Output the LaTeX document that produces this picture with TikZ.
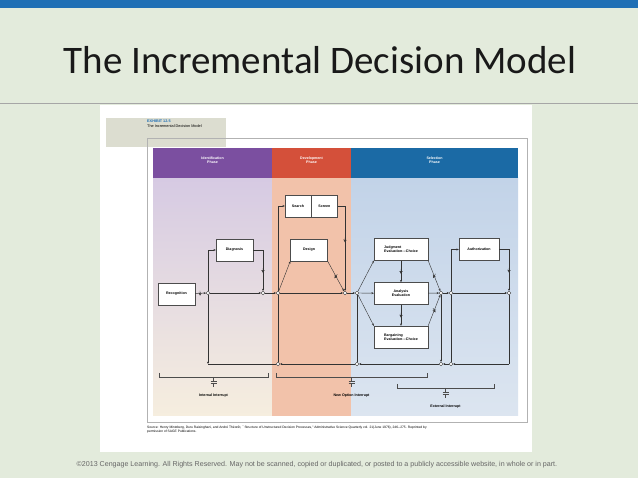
\documentclass[tikz,border=0pt]{standalone}
\usepackage{fontspec}
\setmainfont{Carlito}
\newfontfamily\arialf{Liberation Sans}
\usetikzlibrary{arrows.meta,positioning}
\definecolor{slidebg}{HTML}{E3EBDC}
\definecolor{topbar}{HTML}{1F6FB5}
\definecolor{idhead}{HTML}{7B4FA0}
\definecolor{devhead}{HTML}{D4503A}
\definecolor{selhead}{HTML}{1B6AA5}
\definecolor{idtop}{HTML}{D6CAE3}
\definecolor{idbot}{HTML}{F6EEDF}
\definecolor{devbody}{HTML}{F2C2AA}
\definecolor{seltop}{HTML}{C2D3E8}
\definecolor{selbot}{HTML}{DCE5F0}
\definecolor{exhbg}{HTML}{DCDDD0}
\tikzset{
  box/.style={draw=black!70,fill=white,line width=0.4pt,minimum width=37pt,minimum height=22pt,inner sep=1pt,font=\arialf\bfseries\fontsize{3.6}{4.2}\selectfont,align=center},
  knot/.style={circle,draw=black!80,fill=white,inner sep=0pt,minimum size=3.6pt,line width=0.35pt},
  flow/.style={line width=0.4pt,black!80},
  arr/.style={flow,-{Stealth[length=2.4pt,width=2pt]}},
  brk/.style={line width=0.35pt,black!70},
  lbl/.style={font=\arialf\bfseries\fontsize{3.6}{4.2}\selectfont},
  zz/.pic={\draw[line width=0.35pt] (0,-2.5) -- (0,-0.8) -- (1.3,0.2) -- (-1.3,-0.2) -- (0,0.8) -- (0,2.5);}
}
\begin{document}
\begin{tikzpicture}[x=1pt,y=-1pt]
\useasboundingbox (0,0) rectangle (638,478);
% slide
\fill[slidebg] (0,0) rectangle (638,478);
\fill[topbar] (0,0) rectangle (638,8);
\draw[black!35,line width=0.5pt] (0,103) -- (638,103);
\node[text=black!90] (title) at (320,60) {\fontsize{39}{42}\selectfont The Incremental Decision Model};
\node[text=black!60,font=\arialf\fontsize{7.1}{8}\selectfont] (foot) at (317,465) {\textcopyright2013 Cengage Learning. All Rights Reserved. May not be scanned, copied or duplicated, or posted to a publicly accessible website, in whole or in part.};
% exhibit
\fill[white] (100,105) rectangle (532,452);
\fill[exhbg] (106,118) rectangle (226,147);
\node[anchor=north west,align=left,inner sep=0pt,font=\arialf\fontsize{3.8}{4.6}\selectfont] (exh) at (147,120) {\textcolor{topbar}{\bfseries EXHIBIT 12.5}\\The Incremental Decision Model};
\draw[black!30,line width=0.5pt] (147,138) rectangle (527,422);
% phases
\shade[top color=idtop,bottom color=idbot] (153,178) rectangle (272,416);
\fill[devbody] (272,178) rectangle (351,416);
\shade[top color=seltop,bottom color=selbot] (351,178) rectangle (518,416);
\fill[idhead] (153,148) rectangle (272,178);
\fill[devhead] (272,148) rectangle (351,178);
\fill[selhead] (351,148) rectangle (518,178);
\node[lbl,white,align=center] (ph1) at (212.5,160) {Identification\\Phase};
\node[lbl,white,align=center] (ph2) at (311.5,160) {Development\\Phase};
\node[lbl,white,align=center] (ph3) at (434.5,160) {Selection\\Phase};
% boxes
\node[box] (rec) at (176.5,294) {Recognition};
\node[box] (diag) at (234.5,250) {Diagnosis};
\node[box,minimum width=26pt] (search) at (298,206) {Search};
\node[box,minimum width=26pt,right=0pt of search] (screen) {Screen};
\node[box] (design) at (309,250) {Design};
\node[box,minimum width=54pt,align=left] (judg) at (401,249.5) {Judgment\\Evaluation---Choice};
\node[box,minimum width=40pt] (auth) at (479,249.5) {Authorization};
\node[box,minimum width=54pt] (anal) at (401,293.5) {Analysis\\Evaluation};
\node[box,minimum width=54pt,align=left] (barg) at (401,337) {Bargaining\\Evaluation---Choice};
% knots
\foreach \n/\x/\y in {k1/208/293,k2/263/293,k3/278/293,k4/345/293,k5/357/293,k6/441/293,k7/451/293,k8/509/293,b3/278/364,b5/357/364,b6/441/364,b7/451/364}
  \node[knot] (\n) at (\x,\y) {};
\coordinate (b1) at (208,364);
\coordinate (b8) at (509,364);
% main line
\draw[arr] (rec) -- pic[pos=0.45]{zz} (k1);
\draw[arr] (k1) -- (k2);
\draw[arr] (k2) -- (k3);
\draw[arr] (k3) -- (k4);
\draw[arr] (k4) -- (k5);
\draw[arr] (k5) -- (anal);
\draw[arr] (anal) -- (k6);
\draw[arr] (k6) -- (k7);
\draw[arr] (k7) -- (k8);
% identification loop
\draw[arr] (k1) |- (diag);
\draw[arr] (diag.east) -| pic[pos=0.75]{zz} (k2);
\draw[arr] (k1) -- (b1);
% development
\draw[arr] (k3) |- (search);
\draw[arr] (k3) -- (design.south west);
\draw[arr] (design.south east) -- pic[pos=0.5,rotate=-35]{zz} (k4);
\draw[arr] (screen.east) -| pic[pos=0.7]{zz} (k4);
\draw[flow] (k3) -- (b3);
% selection
\draw[arr] (k5) -- (judg.south west);
\draw[arr] (k5) -- (barg.north west);
\draw[arr] (judg) -- pic[pos=0.5]{zz} (anal);
\draw[arr] (anal) -- pic[pos=0.5]{zz} (barg);
\draw[arr] (judg.south east) -- pic[pos=0.5,rotate=-30]{zz} (k6);
\draw[arr] (barg.north east) -- pic[pos=0.5,rotate=30]{zz} (k6);
\draw[arr] (k7) |- (auth);
\draw[arr] (auth.east) -| pic[pos=0.75]{zz} (k8);
\draw[arr] (k6) -- (b6);
\draw[flow] (k5) -- (b5);
\draw[flow] (k7) -- (b7);
% feedback
\draw[flow] (k8) -- (b8);
\draw[arr] (b8) -- (b7);
\draw[arr] (b7) -- (b6);
\draw[arr] (b6) -- (b5);
\draw[arr] (b5) -- (b3);
\draw[flow] (b3) -- (b1);
% interrupts
\foreach \l/\r/\y/\t/\n in {159/268/377/Internal Interrupt/ii,276/427/377/New Option Interrupt/noi,397/494/388/External Interrupt/ei}{
  \draw[brk] (\l,\y-4) -- (\l,\y) -- (\r,\y) -- (\r,\y-4);
  \draw[brk] ({(\l+\r)/2},\y) -- ({(\l+\r)/2},\y+4) ({(\l+\r)/2-3},\y+4) -- ({(\l+\r)/2+3},\y+4)
    ({(\l+\r)/2-3},\y+6.5) -- ({(\l+\r)/2+3},\y+6.5) ({(\l+\r)/2},\y+6.5) -- ({(\l+\r)/2},\y+10);
  \node[lbl] (\n) at ({(\l+\r)/2},\y+19) {\t};
}
\node[anchor=north west,align=left,inner sep=0pt,font=\arialf\fontsize{3.3}{4.2}\selectfont] (src) at (147,426)
  {Source: Henry Mintzberg, Duru Raisinghani, and Andr\'e Th\'eor\^et, ``Structure of Unstructured Decision Processes,'' Administrative Science Quarterly vol. 21(June 1976), 246--275. Reprinted by\\permission of SAGE Publications.};
\end{tikzpicture}
\end{document}
